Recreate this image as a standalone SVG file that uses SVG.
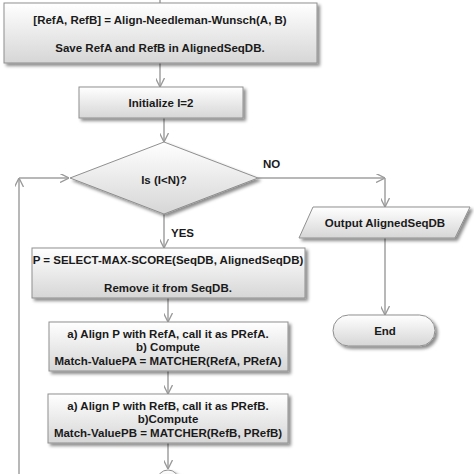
<svg xmlns="http://www.w3.org/2000/svg" width="474" height="474" viewBox="0 0 474 474">
<defs>
<linearGradient id="g" x1="0" y1="0" x2="0" y2="1">
<stop offset="0" stop-color="#ffffff"/>
<stop offset="1" stop-color="#d6d6d6"/>
</linearGradient>
<filter id="sh" x="-10%" y="-10%" width="130%" height="140%">
<feDropShadow dx="2.5" dy="2.5" stdDeviation="1.5" flood-color="#000" flood-opacity="0.45"/>
</filter>
<marker id="ah" viewBox="0 0 10 10" refX="10" refY="5" markerWidth="9" markerHeight="9" orient="auto" markerUnits="userSpaceOnUse">
<path d="M0,0 L10,5 L0,10" fill="none" stroke="#9a9a9a" stroke-width="1.5"/>
</marker>
</defs>
<style>
.n{fill:url(#g);stroke:#8f8f8f;stroke-width:1;filter:url(#sh)}
.t{font-family:"Liberation Sans",Arial,sans-serif;font-weight:bold;font-size:11.5px;fill:#1a1a1a;text-anchor:middle}
.c{fill:none;stroke:#a0a0a0;stroke-width:1.5}
.a{marker-end:url(#ah)}
</style>
<rect width="474" height="474" fill="#fff"/>
<g id="connectors">
<line class="c" x1="160" y1="0" x2="160" y2="4"/>
<line class="c a" x1="160" y1="63" x2="160" y2="87"/>
<line class="c a" x1="164" y1="118" x2="164" y2="142"/>
<polyline class="c a" points="258,178 385,178"/>
<line class="c a" x1="385" y1="178" x2="385" y2="207"/>
<line class="c a" x1="385" y1="238" x2="385" y2="315"/>
<line class="c a" x1="164" y1="214" x2="164" y2="248"/>
<line class="c a" x1="168" y1="298" x2="168" y2="322"/>
<line class="c a" x1="168" y1="371" x2="168" y2="394"/>
<line class="c a" x1="168" y1="443" x2="168" y2="469"/>
<polyline class="c a" points="19,474 19,178"/>
<line class="c a" x1="19" y1="178" x2="69" y2="178"/>
<text class="t" x="263" y="168" style="text-anchor:start">NO</text>
<text class="t" x="171" y="237" style="text-anchor:start">YES</text>
</g>
<g id="n1">
<rect class="n" x="4" y="3" width="313" height="60"/>
<text class="t" x="160" y="24">[RefA, RefB] = Align-Needleman-Wunsch(A, B)</text>
<text class="t" x="160" y="52">Save RefA and RefB in AlignedSeqDB.</text>
</g>
<g id="n2">
<rect class="n" x="79" y="87" width="164" height="31"/>
<text class="t" x="161" y="107">Initialize I=2</text>
</g>
<g id="n3">
<polygon class="n" points="164,142 258,178 164,214 70,178"/>
<text class="t" x="164" y="184">Is (I&lt;N)?</text>
</g>
<g id="n4">
<polygon class="n" points="313,207 470,207 455,238 299,238"/>
<text class="t" x="385" y="227">Output AlignedSeqDB</text>
</g>
<g id="n5">
<rect class="n" x="333" y="315" width="102" height="31" rx="15.5"/>
<text class="t" x="385" y="335">End</text>
</g>
<g id="n6">
<rect class="n" x="32" y="248" width="273" height="50"/>
<text class="t" x="168" y="264">P = SELECT-MAX-SCORE(SeqDB, AlignedSeqDB)</text>
<text class="t" x="168" y="292">Remove it from SeqDB.</text>
</g>
<g id="n7">
<rect class="n" x="49" y="322" width="239" height="49"/>
<text class="t" x="168" y="338">a) Align P with RefA, call it as PRefA.</text>
<text class="t" x="168" y="351">b) Compute</text>
<text class="t" x="168" y="365">Match-ValuePA = MATCHER(RefA, PRefA)</text>
</g>
<g id="n8">
<rect class="n" x="48" y="394" width="240" height="49"/>
<text class="t" x="168" y="410">a) Align P with RefB, call it as PRefB.</text>
<text class="t" x="168" y="423">b)Compute</text>
<text class="t" x="168" y="437">Match-ValuePB = MATCHER(RefB, PRefB)</text>
</g>
<g id="n9">
<circle class="n" cx="168" cy="481" r="11"/>
</g>
</svg>
